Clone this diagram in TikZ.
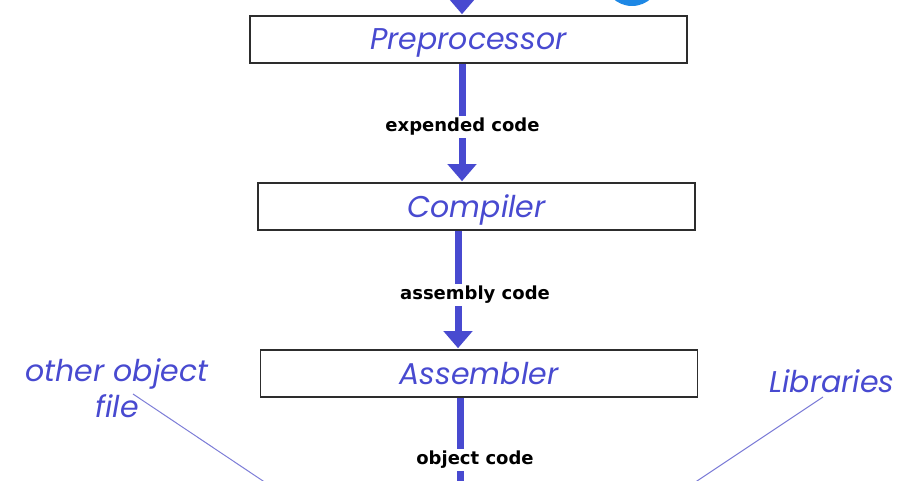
\documentclass[tikz,border=0pt]{standalone}
\usepackage{fontspec}
\setmainfont{DejaVu Sans}
\newfontfamily\handfont{Poppins}
\usetikzlibrary{calc}
\usetikzlibrary{arrows.meta}
\usetikzlibrary{positioning}
\definecolor{indigo}{RGB}{72, 74, 208}
\definecolor{lavender}{RGB}{125, 125, 215}
\definecolor{azure}{RGB}{30, 136, 229}
\definecolor{charcoal}{RGB}{45, 45, 45}

\tikzset{
  stage/.style={draw=charcoal, line width=1.6pt, minimum width=437pt, minimum height=47pt,
                inner sep=0pt, text height=21pt, text depth=0pt, text=indigo,
                font=\handfont\itshape\fontsize{30}{34}\selectfont},
  flow/.style={indigo, line width=7pt},
  flowarrow/.style={flow, -{Triangle[width=28pt,length=17pt]}, shorten >=1pt},
  codelabel/.style={inner sep=2.5pt, font=\bfseries\fontsize{18}{22}\selectfont},
  sourcelabel/.style={align=center, text=indigo, font=\handfont\itshape\fontsize{30}{36}\selectfont},
  feedline/.style={lavender, line width=1pt}
}

\begin{document}
\begin{tikzpicture}[x=1pt, y=-1pt]
            \useasboundingbox (0,0) rectangle (917,481);
            % Badge cut by the top edge
            \fill[azure] (632,-22) circle (28pt);
            % Stages
            \node[stage] (pre)  at (468.5, 39.5) {Preprocessor};
            \node[stage] (comp) at (476.5,206.5) {Compiler};
            \node[stage] (asm)  at (479.0,373.5) {Assembler};
            % What goes from one stage to the next
            \node[codelabel] (expcode) at (462.5,127) {expended code};
            \node[codelabel] (asmcode) at (475.0,295) {assembly code};
            \node[codelabel] (objcode) at (475.0,460) {object code};
            % Shafts
            \coordinate (src)  at (462,-45);
            \coordinate (c1)   at (462,  0);
            \coordinate (c2)   at (458,  0);
            \coordinate (c3)   at (460,  0);
            \coordinate (sink) at (460,500);
            \draw[flowarrow] (src)                 -- (pre.north -| c1);
            \draw[flow]      (pre.south -| c1)     -- (expcode.north -| c1);
            \draw[flowarrow] (expcode.south -| c1) -- (comp.north -| c1);
            \draw[flow]      (comp.south -| c2)    -- (asmcode.north -| c2);
            \draw[flowarrow] (asmcode.south -| c2) -- (asm.north -| c2);
            \draw[flow]      (asm.south -| c3)     -- (objcode.north -| c3);
            \draw[flow]      (objcode.south -| c3) -- (sink);
            % Other inputs
            \node[sourcelabel] (other) at (117,388) {other object\\file};
            \node[sourcelabel] (libs)  at (832,381) {Libraries};
            \coordinate (otherend) at (133,394);
            \coordinate (libsend)  at (823,397);
            \coordinate (lnkl)     at (279.5,492);
            \coordinate (lnkr)     at (680.5,492);
            \draw[feedline] (otherend) -- (lnkl);
            \draw[feedline] (libsend)  -- (lnkr);
        \end{tikzpicture}
\end{document}
